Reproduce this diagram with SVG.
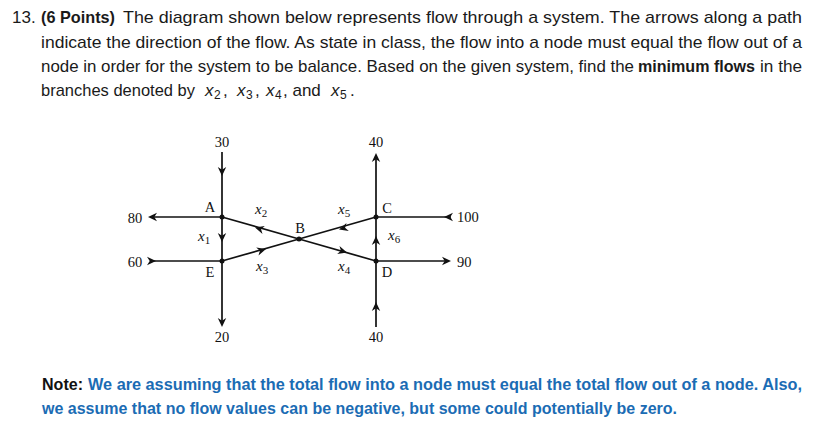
<svg xmlns="http://www.w3.org/2000/svg" xmlns:xlink="http://www.w3.org/1999/xlink" width="834" height="441" viewBox="0 0 834 441">
<style>
.hd{font-family:"Liberation Sans",Arial,sans-serif;font-size:17px;fill:#1a1a1a}
.b{font-weight:bold}
.it{font-style:italic}
.note{font-family:"Liberation Sans",Arial,sans-serif;font-size:17px;font-weight:bold;fill:#1b6cb4}
.lb{font-family:"Liberation Serif","Times New Roman",serif;font-size:14.5px;fill:#111}
.xl{font-family:"Liberation Serif","Times New Roman",serif;font-size:15px;font-style:italic;fill:#111}
.sub{font-size:11px;font-style:normal}
.ln{stroke:#111;stroke-width:1.7;fill:none}
.ah{fill:#111}
.dot{fill:#111}
</style>
<defs>
<path id="ah" d="M0,0 L-9,-4.2 L-6.3,0 L-9,4.2 Z"/>
</defs>
<rect width="834" height="441" fill="#fff"/>

<g id="question">
<text class="hd" y="23"><tspan x="12">13.</tspan><tspan class="b" x="41" textLength="74" lengthAdjust="spacingAndGlyphs">(6 Points)</tspan><tspan x="123" textLength="679" lengthAdjust="spacingAndGlyphs">The diagram shown below represents flow through a system.  The arrows along a path</tspan></text>
<text class="hd" y="48"><tspan x="41" textLength="761" lengthAdjust="spacingAndGlyphs">indicate the direction of the flow.  As state in class, the flow into a node must equal the flow out of a</tspan></text>
<text class="hd" y="72"><tspan x="41" textLength="593" lengthAdjust="spacingAndGlyphs">node in order for the system to be balance.  Based on the given system, find the</tspan><tspan class="b" x="638" textLength="117" lengthAdjust="spacingAndGlyphs">minimum flows</tspan><tspan x="760" textLength="42" lengthAdjust="spacingAndGlyphs">in the</tspan></text>
<text class="hd" y="96"><tspan x="41" textLength="154" lengthAdjust="spacingAndGlyphs">branches denoted by</tspan><tspan class="it" x="205">x</tspan><tspan x="214" dy="3" font-size="12">2</tspan><tspan x="223" dy="-3">,</tspan><tspan class="it" x="237">x</tspan><tspan x="246" dy="3" font-size="12">3</tspan><tspan x="255" dy="-3">,</tspan><tspan class="it" x="266">x</tspan><tspan x="275" dy="3" font-size="12">4</tspan><tspan x="283" dy="-3">, and</tspan><tspan class="it" x="331">x</tspan><tspan x="340" dy="3" font-size="12">5</tspan><tspan x="350" dy="-3">.</tspan></text>
</g>

<g id="connectors">
<line class="ln" x1="222" y1="152" x2="222" y2="322"/>
<line class="ln" x1="376" y1="158" x2="376" y2="327"/>
<line class="ln" x1="152" y1="217" x2="222" y2="217"/>
<line class="ln" x1="150" y1="261" x2="222" y2="261"/>
<line class="ln" x1="376" y1="217" x2="451" y2="217"/>
<line class="ln" x1="376" y1="261" x2="446" y2="261"/>
<line class="ln" x1="222" y1="217" x2="299" y2="239"/>
<line class="ln" x1="222" y1="261" x2="299" y2="239"/>
<line class="ln" x1="376" y1="217" x2="299" y2="239"/>
<line class="ln" x1="376" y1="261" x2="299" y2="239"/>
<use href="#ah" class="ah" transform="translate(222,176) rotate(90)"/>
<use href="#ah" class="ah" transform="translate(222,327) rotate(90)"/>
<use href="#ah" class="ah" transform="translate(222,242) rotate(90)"/>
<use href="#ah" class="ah" transform="translate(148,217) rotate(180)"/>
<use href="#ah" class="ah" transform="translate(156,261)"/>
<use href="#ah" class="ah" transform="translate(376,153) rotate(-90)"/>
<use href="#ah" class="ah" transform="translate(376,236) rotate(-90)"/>
<use href="#ah" class="ah" transform="translate(376,302) rotate(-90)"/>
<use href="#ah" class="ah" transform="translate(444,217) rotate(180)"/>
<use href="#ah" class="ah" transform="translate(451,261)"/>
<use href="#ah" class="ah" transform="translate(255,227.5) rotate(195.9)"/>
<use href="#ah" class="ah" transform="translate(266,249) rotate(-15.9)"/>
<use href="#ah" class="ah" transform="translate(339,229.5) rotate(164.1)"/>
<use href="#ah" class="ah" transform="translate(347,252.5) rotate(15.9)"/>
</g>

<g id="node-A"><circle class="dot" cx="222" cy="217" r="2.5"/><text class="lb" x="210" y="212" text-anchor="middle">A</text></g>
<g id="node-B"><circle class="dot" cx="299" cy="239" r="2.5"/><text class="lb" x="300" y="233" text-anchor="middle">B</text></g>
<g id="node-C"><circle class="dot" cx="376" cy="217" r="2.5"/><text class="lb" x="387" y="213" text-anchor="middle">C</text></g>
<g id="node-D"><circle class="dot" cx="376" cy="261" r="2.5"/><text class="lb" x="387" y="277" text-anchor="middle">D</text></g>
<g id="node-E"><circle class="dot" cx="222" cy="261" r="2.5"/><text class="lb" x="210" y="277" text-anchor="middle">E</text></g>

<g id="labels">
<text class="lb" x="222" y="147" text-anchor="middle">30</text>
<text class="lb" x="376" y="147" text-anchor="middle">40</text>
<text class="lb" x="135" y="223" text-anchor="middle">80</text>
<text class="lb" x="135" y="267" text-anchor="middle">60</text>
<text class="lb" x="222" y="342" text-anchor="middle">20</text>
<text class="lb" x="376" y="342" text-anchor="middle">40</text>
<text class="lb" x="457" y="222">100</text>
<text class="lb" x="457" y="267">90</text>
<text class="xl" x="198" y="241">x<tspan class="sub" dy="3">1</tspan></text>
<text class="xl" x="255" y="214">x<tspan class="sub" dy="3">2</tspan></text>
<text class="xl" x="256" y="271">x<tspan class="sub" dy="3">3</tspan></text>
<text class="xl" x="338" y="271">x<tspan class="sub" dy="3">4</tspan></text>
<text class="xl" x="338" y="214">x<tspan class="sub" dy="3">5</tspan></text>
<text class="xl" x="388" y="240">x<tspan class="sub" dy="3">6</tspan></text>
</g>

<g id="note">
<text class="note" y="390"><tspan x="42" fill="#111" textLength="41" lengthAdjust="spacingAndGlyphs">Note:</tspan><tspan x="88" textLength="714" lengthAdjust="spacingAndGlyphs">We are assuming that the total flow into a node must equal the total flow out of a node.  Also,</tspan></text>
<text class="note" y="414"><tspan x="42" textLength="635" lengthAdjust="spacingAndGlyphs">we assume that no flow values can be negative, but some could potentially be zero.</tspan></text>
</g>
</svg>
